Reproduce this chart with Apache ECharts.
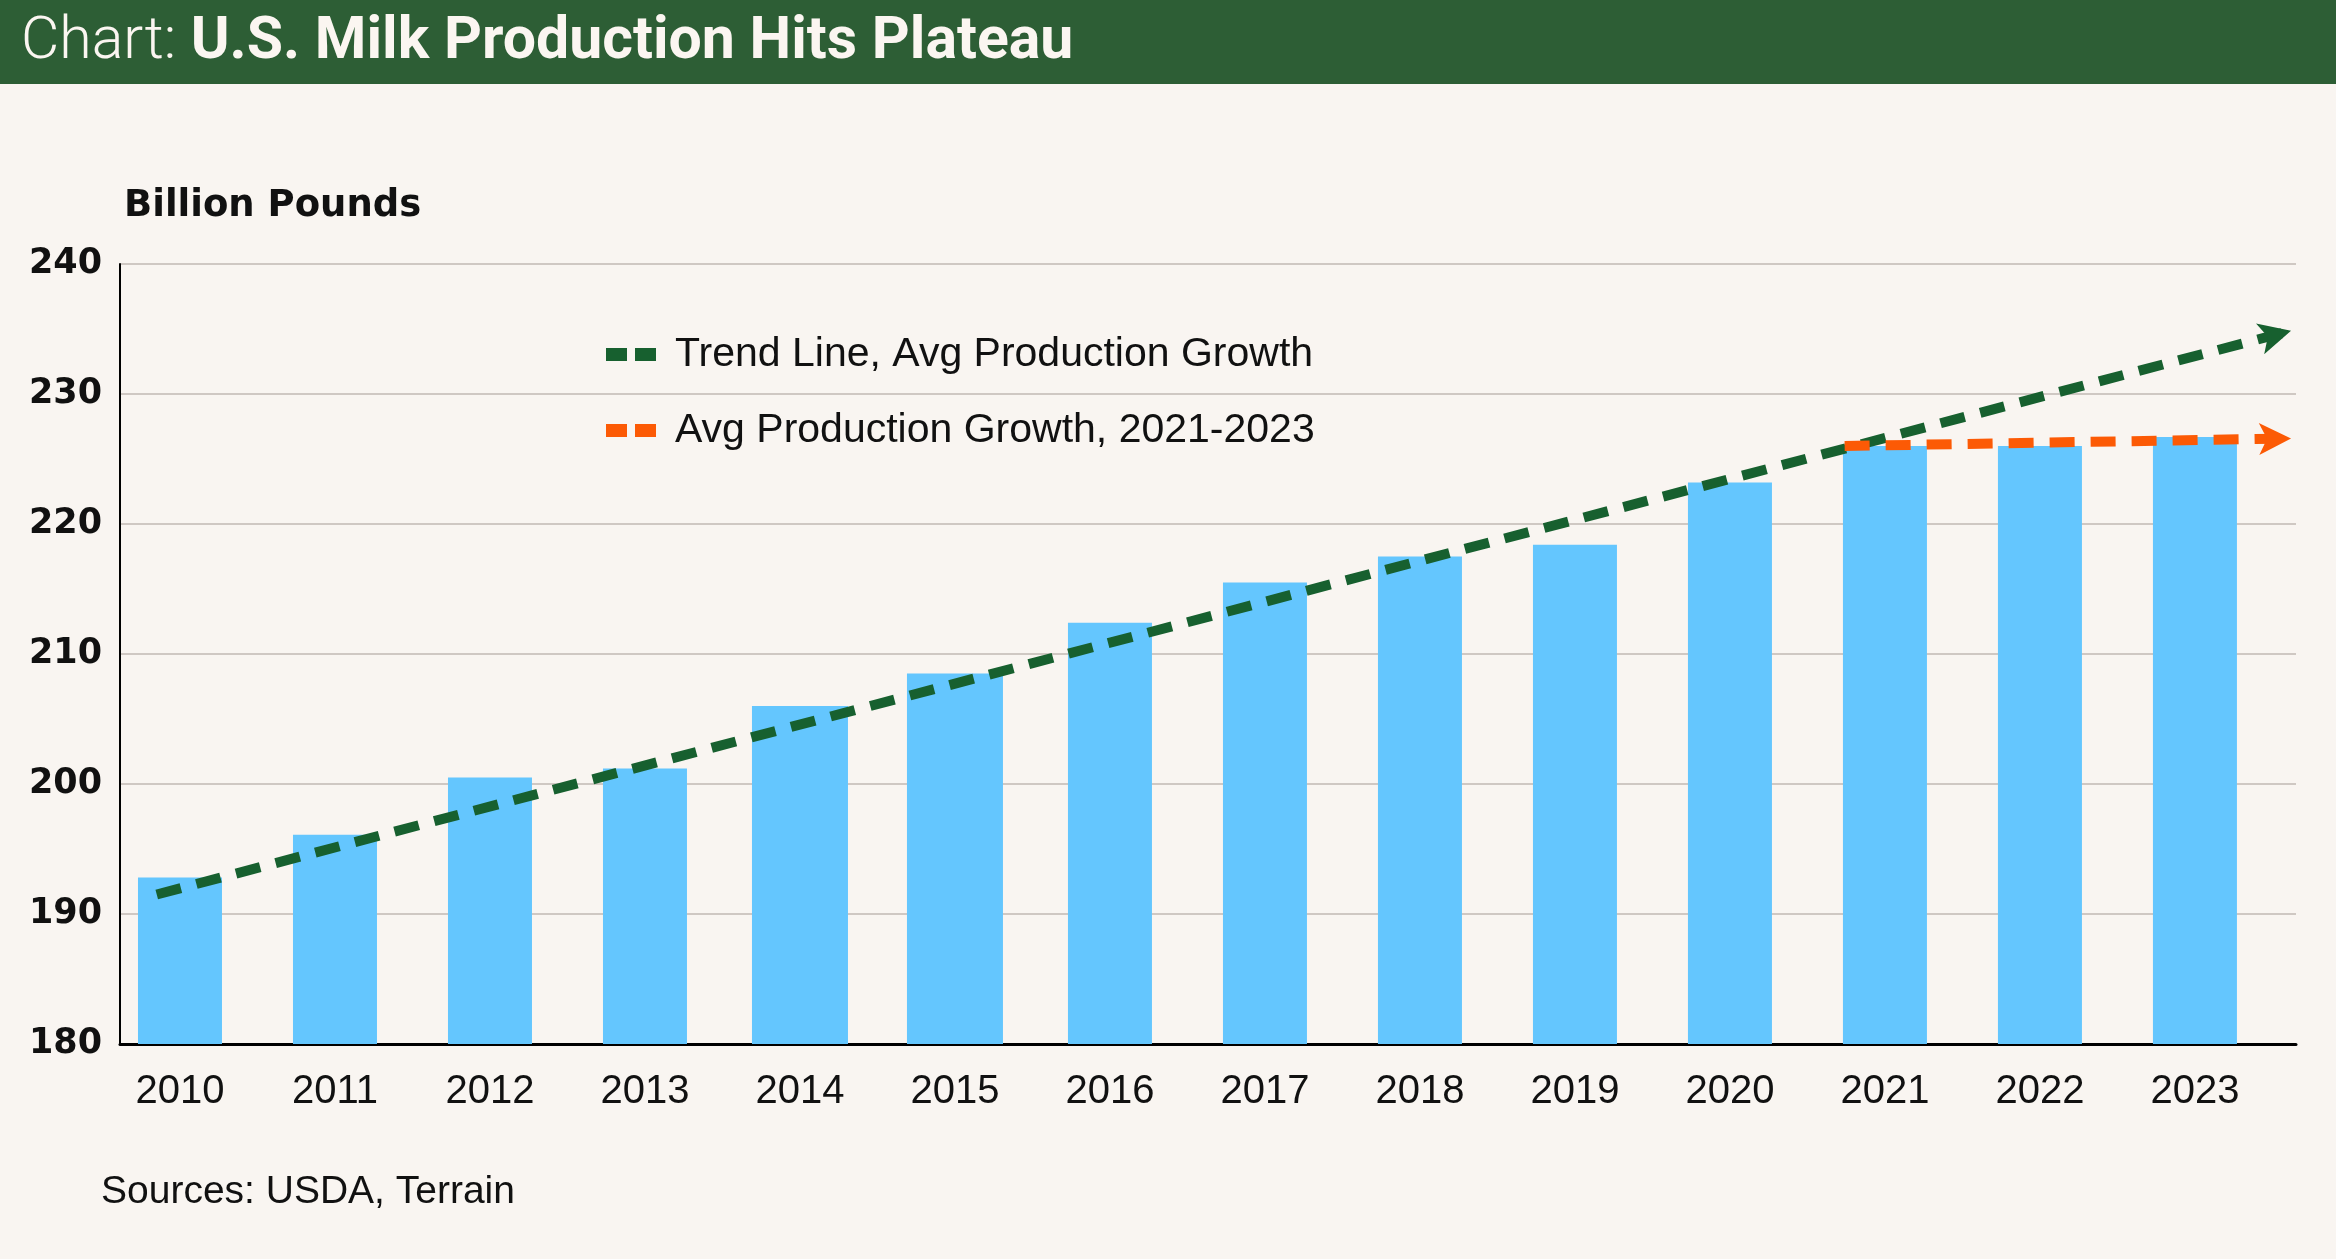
<!DOCTYPE html>
<html><head><meta charset="utf-8">
<script src="https://cdn.jsdelivr.net/npm/echarts@6/dist/echarts.min.js"></script>
<style>html,body{margin:0;padding:0;background:#f9f5f1}#c{width:2336px;height:1259px}</style>
</head><body><div id="c"></div>
<script>
// ---- data ----
const years = [2010, 2011, 2012, 2013, 2014, 2015, 2016, 2017, 2018, 2019, 2020, 2021, 2022, 2023];
const production = [192.8, 196.1, 200.5, 201.2, 206.0, 208.5, 212.4, 215.5, 217.5, 218.4, 223.2, 226.0, 226.0, 226.7];
const yTicks = [180, 190, 200, 210, 220, 230, 240];
const trendYears = [2009.85, 2023.62];
const trendValues = [191.5, 234.87];
const recentYears = [2020.74, 2023.62];
const recentValues = [226.0, 226.58];
const titleLight = 'Chart:';
const titleBold = ' U.S. Milk Production Hits Plateau';
const unitLabel = 'Billion Pounds';
const sourceText = 'Sources: USDA, Terrain';
const trendName = 'Trend Line, Avg Production Growth';
const recentName = 'Avg Production Growth, 2021-2023';

// ---- styles ----
const wideBarYears = [2014, 2015];
const BG = '#f9f5f1', HEADER = '#2d5e35', BAR = '#64c6fe', GREEN = '#17602f', ORANGE = '#fc5a05';
const TXT = '#111111';
const sans = '"Liberation Sans", Arial, sans-serif';
const wide = '"DejaVu Sans", sans-serif';

const normalBars = [], wideBars = [];
years.forEach((y, i) => (wideBarYears.includes(y) ? wideBars : normalBars).push([y, production[i]]));

const xMin = 2009.613, xMax = 2023.652;
function xAxisBase(show) {
  return {
    type: 'value', min: xMin, max: xMax, show: show,
    axisLine: { show: true, onZero: false, lineStyle: { color: '#000', width: 3 } },
    axisTick: { show: false },
    splitLine: { show: false },
    axisLabel: { show: show, customValues: years, formatter: v => String(v), margin: 28,
      fontFamily: sans, fontSize: 40, color: TXT }
  };
}

function arrowLine(name, color, xs, ys) {
  return {
    name: name, type: 'line', data: [], color: color, z: 5,
    markLine: {
      silent: true, animation: false,
      symbol: ['none', 'arrow'], symbolSize: [24, 32],
      label: { show: false },
      lineStyle: { color: color, width: 10, type: [25, 16] },
      emphasis: { disabled: true },
      data: [[{ coord: [xs[0], ys[0]] }, { coord: [xs[1], ys[1]] }]]
    }
  };
}

const chart = echarts.init(document.getElementById('c'));
chart.setOption({
  backgroundColor: BG,
  animation: false,
  graphic: [{ type: 'rect', left: 0, top: 0, z: -10, shape: { width: 2336, height: 84 }, style: { fill: HEADER } }],
  title: [
    { text: '{l|' + titleLight + '}{b|' + titleBold + '}', left: 21, top: 3, padding: 0,
      textStyle: { rich: {
        l: { fontFamily: 'Roboto', fontWeight: 300, fontSize: 59, color: '#fbf6f1', lineHeight: 80 },
        b: { fontFamily: 'Roboto', fontWeight: 'bold', fontSize: 59, color: '#fbf6f1', lineHeight: 80 } } } },
    { text: unitLabel, left: 124, top: 185, padding: 0,
      textStyle: { fontFamily: wide, fontWeight: 'bold', fontSize: 37, color: TXT, lineHeight: 42 } },
    { text: sourceText, left: 101, top: 1172, padding: 0,
      textStyle: { fontFamily: sans, fontWeight: 'normal', fontSize: 39, color: TXT, lineHeight: 40 } }
  ],
  legend: {
    data: [trendName, recentName], orient: 'vertical', left: 606, top: 334, padding: 0,
    itemGap: 35, itemWidth: 50, itemHeight: 13,
    icon: 'path://M0,0H21V13H0Z M29,0H50V13H29Z',
    itemStyle: { borderWidth: 0 },
    textStyle: { fontFamily: sans, fontSize: 41, color: TXT, lineHeight: 40, padding: [0, 0, 0, 14] },
    selectedMode: false
  },
  grid: { left: 120, right: 40, top: 264, bottom: 215, containLabel: false },
  xAxis: [xAxisBase(true), xAxisBase(false)],
  yAxis: {
    type: 'value', min: yTicks[0], max: yTicks[yTicks.length - 1], interval: 10,
    axisLine: { show: true, lineStyle: { color: '#000', width: 2 } },
    axisTick: { show: false },
    splitLine: { show: true, lineStyle: { color: '#cfc8c3', width: 2 } },
    axisLabel: { margin: 18, fontFamily: wide, fontWeight: 'bold', fontSize: 35, color: TXT }
  },
  series: [
    { type: 'bar', name: 'Production', xAxisIndex: 0, data: normalBars, barWidth: 84,
      itemStyle: { color: BAR }, z: 2 },
    { type: 'bar', name: 'Production wide', xAxisIndex: 1, data: wideBars, barWidth: 96,
      itemStyle: { color: BAR }, z: 2 },
    arrowLine(trendName, GREEN, trendYears, trendValues),
    arrowLine(recentName, ORANGE, recentYears, recentValues)
  ]
});
</script></body></html>
